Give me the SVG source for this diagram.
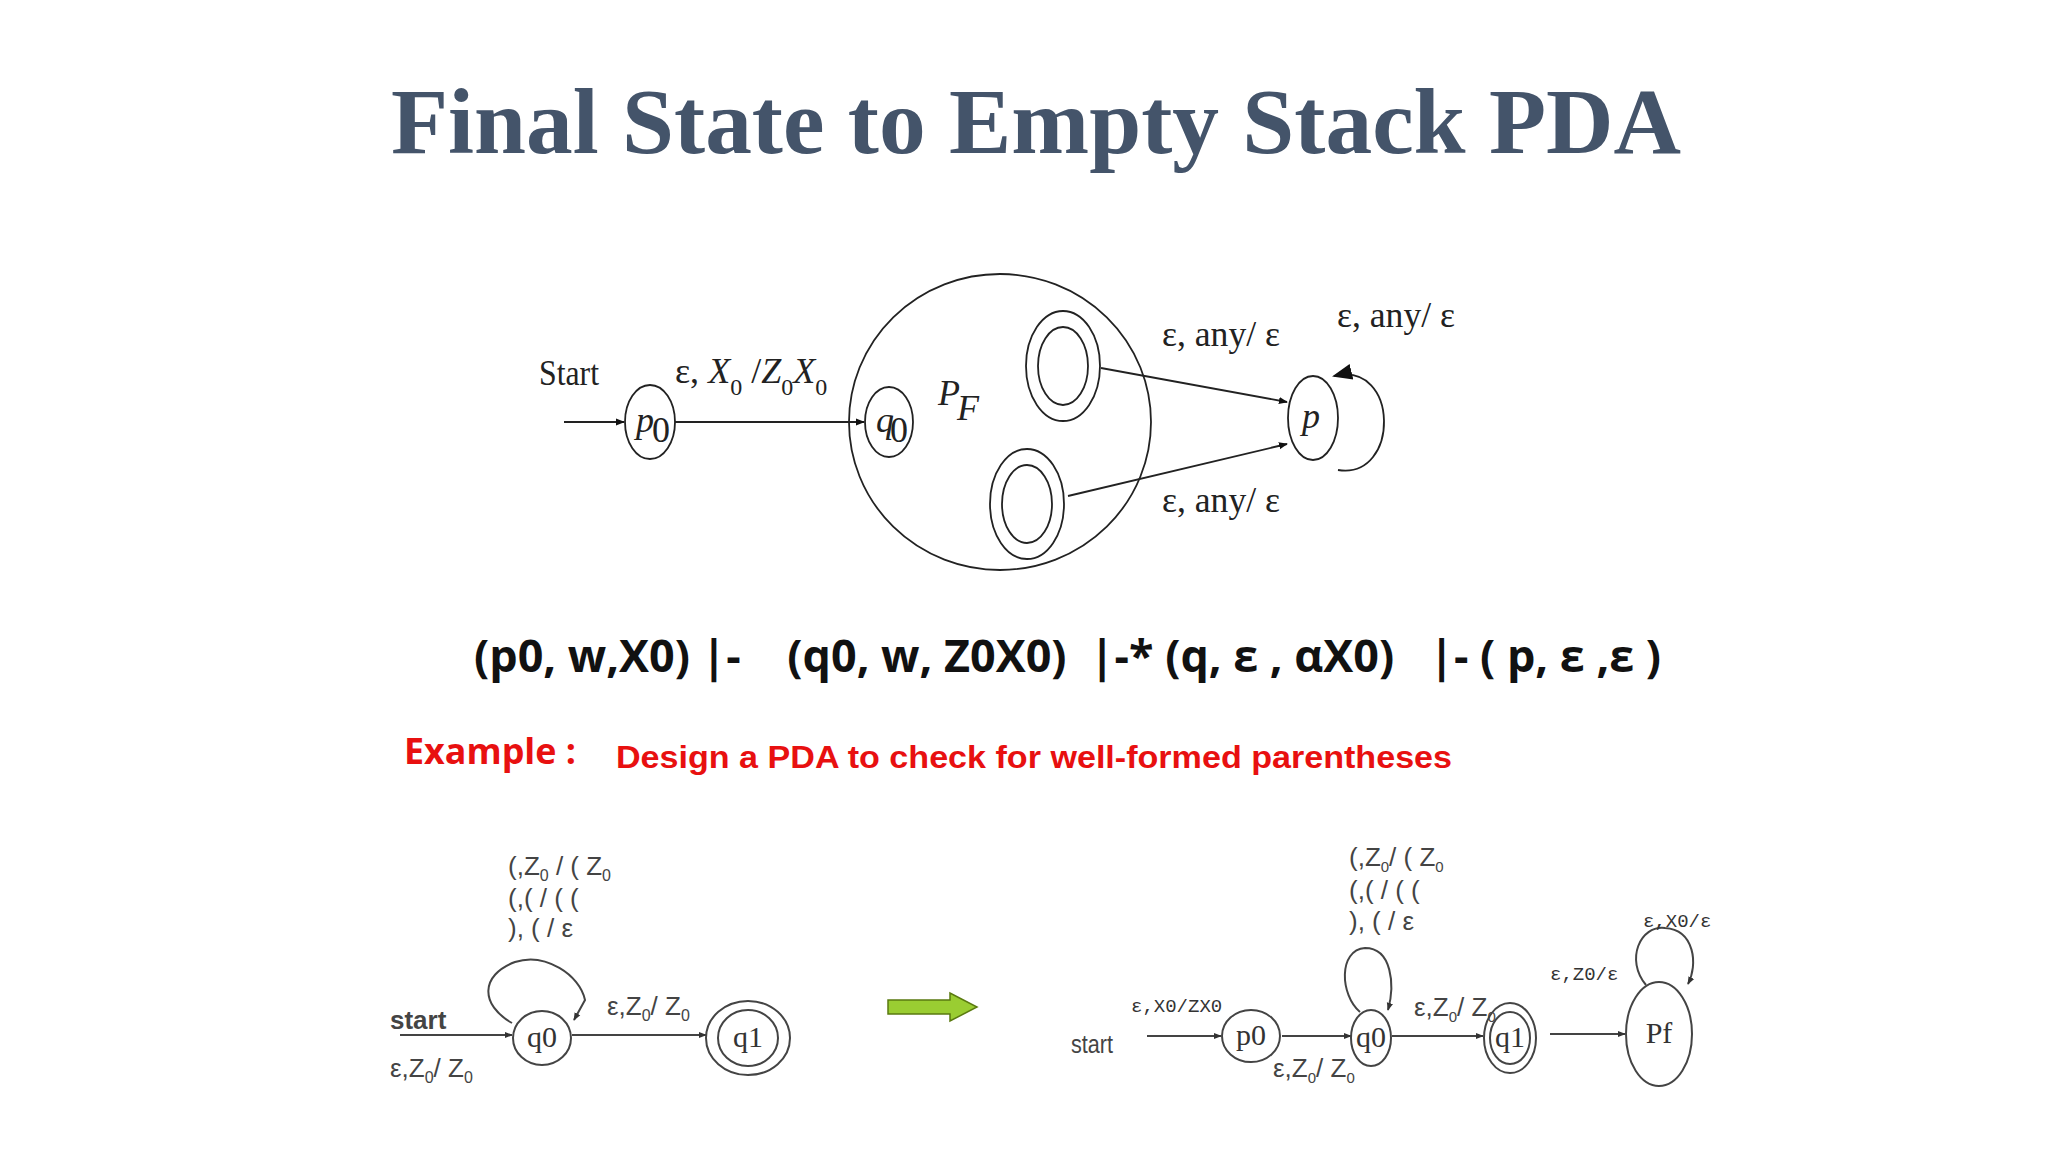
<svg xmlns="http://www.w3.org/2000/svg" width="2048" height="1152" viewBox="0 0 2048 1152">
<defs>
<marker id="ah" viewBox="0 0 10 10" refX="9" refY="5" markerWidth="9" markerHeight="9" markerUnits="userSpaceOnUse" orient="auto"><path d="M0,1 L10,5 L0,9 z" fill="#111"/></marker>
<marker id="ahg" viewBox="0 0 10 10" refX="9" refY="5" markerWidth="8" markerHeight="8" markerUnits="userSpaceOnUse" orient="auto"><path d="M0,1 L10,5 L0,9 z" fill="#333"/></marker>
<marker id="ahb" viewBox="0 0 10 10" refX="9" refY="5" markerWidth="20" markerHeight="20" markerUnits="userSpaceOnUse" orient="auto"><path d="M0,1 L10,5 L0,9 z" fill="#111"/></marker>
</defs>
<style>
.st{fill:none;stroke:#222;stroke-width:1.8}
.sg{fill:none;stroke:#444;stroke-width:2}
.ed{fill:none;stroke:#222;stroke-width:1.8;marker-end:url(#ah)}
.eg{fill:none;stroke:#444;stroke-width:2;marker-end:url(#ahg)}
.tt{font-family:"Liberation Serif",serif;font-size:36px;fill:#222}
.ti{font-family:"Liberation Serif",serif;font-style:italic;font-size:36px;fill:#222}
.sm{font-family:"Liberation Sans",sans-serif;font-size:26px;fill:#444}
.mo{font-family:"Liberation Mono",monospace;font-size:19px;fill:#333}
.cr{font-family:"Liberation Serif",serif;font-size:30px;fill:#333}
</style>
<rect width="2048" height="1152" fill="#fff"/>
<text x="1036" y="153" text-anchor="middle" font-family="Liberation Serif,serif" font-weight="bold" font-size="93" fill="#44546A" textLength="1290" lengthAdjust="spacingAndGlyphs">Final State to Empty Stack PDA</text>

<g id="connectors">
<line class="ed" x1="564" y1="422" x2="624" y2="422"/>
<line class="ed" x1="675" y1="422" x2="864" y2="422"/>
<line class="ed" x1="1101" y1="368" x2="1287" y2="402"/>
<line class="ed" x1="1068" y1="496" x2="1287" y2="444"/>
<path d="M1338,470 C1400,480 1400,360 1334,376" class="st" marker-end="url(#ahb)"/>
<line class="eg" x1="400" y1="1035" x2="512" y2="1035"/>
<line class="eg" x1="572" y1="1035" x2="706" y2="1035"/>
<path class="eg" d="M512,1023 C480,1005 480,975 515,962 C545,952 580,975 585,1000 L574,1020"/>
<line class="eg" x1="1147" y1="1036" x2="1221" y2="1036"/>
<line class="eg" x1="1282" y1="1036" x2="1351" y2="1036"/>
<path class="eg" d="M1360,1012 C1340,995 1338,950 1365,948 C1392,948 1395,985 1388,1010"/>
<line class="eg" x1="1392" y1="1036" x2="1483" y2="1036"/>
<line class="eg" x1="1550" y1="1034" x2="1625" y2="1034"/>
<path class="eg" d="M1646,985 C1625,960 1640,925 1665,928 C1695,930 1698,965 1688,984"/>
</g>

<g id="n-start"><text x="539" y="385" class="tt" textLength="60" lengthAdjust="spacingAndGlyphs">Start</text></g>
<g id="n-p0"><ellipse cx="650" cy="422" rx="25" ry="37" class="st"/><text x="636" y="432" class="ti" font-size="34">p</text><text x="652" y="442" class="tt" font-size="24">0</text></g>
<g id="l-1"><text x="675" y="383" class="tt" font-size="34">ε, <tspan font-style="italic">X</tspan><tspan font-size="24" dy="12">0</tspan><tspan dy="-12"> /</tspan><tspan font-style="italic">Z</tspan><tspan font-size="24" dy="12">0</tspan><tspan dy="-12" font-style="italic">X</tspan><tspan font-size="24" dy="12">0</tspan></text></g>
<g id="n-PF"><ellipse cx="1000" cy="422" rx="151" ry="148" class="st"/><text x="938" y="405" class="ti" font-size="34">P</text><text x="957" y="420" class="ti" font-size="20">F</text></g>
<g id="n-q0"><ellipse cx="889" cy="422" rx="24" ry="35" class="st"/><text x="876" y="432" class="ti" font-size="32">q</text><text x="890" y="442" class="tt" font-size="22">0</text></g>
<g id="n-f1"><ellipse cx="1063" cy="366" rx="37" ry="55" class="st"/><ellipse cx="1063" cy="366" rx="25" ry="39" class="st"/></g>
<g id="n-f2"><ellipse cx="1027" cy="504" rx="37" ry="55" class="st"/><ellipse cx="1027" cy="504" rx="25" ry="39" class="st"/></g>
<g id="n-p"><ellipse cx="1313" cy="418" rx="25" ry="42" class="st"/><text x="1302" y="428" class="ti" font-size="34">p</text></g>
<text x="1162" y="346" class="tt" font-size="34" textLength="118" lengthAdjust="spacingAndGlyphs">ε, any/ ε</text>
<text x="1162" y="512" class="tt" font-size="34" textLength="118" lengthAdjust="spacingAndGlyphs">ε, any/ ε</text>
<text x="1337" y="327" class="tt" font-size="34" textLength="118" lengthAdjust="spacingAndGlyphs">ε, any/ ε</text>

<text x="474" y="672" font-family="Open Sans,Liberation Sans,sans-serif" font-weight="bold" font-size="44" fill="#111" textLength="1187" lengthAdjust="spacingAndGlyphs" xml:space="preserve">(p0, w,X0) |-    (q0, w, Z0X0)  |-* (q, ε , αX0)   |- ( p, ε ,ε )</text>
<text x="404" y="764" font-family="Open Sans,Liberation Sans,sans-serif" font-weight="bold" font-size="36" fill="#E81010" textLength="172" lengthAdjust="spacingAndGlyphs">Example :</text>
<text x="616" y="768" font-family="Liberation Sans,sans-serif" font-weight="bold" font-size="32" fill="#E81010" textLength="836" lengthAdjust="spacingAndGlyphs">Design a PDA to check for well-formed parentheses</text>

<g id="n-bl-labels">
<text x="508" y="875" class="sm">(,Z<tspan font-size="16" dy="6">0</tspan><tspan dy="-6"> / ( Z</tspan><tspan font-size="16" dy="6">0</tspan></text>
<text x="508" y="907" class="sm">(,( / ( (</text>
<text x="508" y="937" class="sm">), ( / ε</text>
<text x="390" y="1029" class="sm" font-weight="bold">start</text>
<text x="390" y="1077" class="sm">ε,Z<tspan font-size="16" dy="6">0</tspan><tspan dy="-6">/ Z</tspan><tspan font-size="16" dy="6">0</tspan></text>
<text x="607" y="1015" class="sm">ε,Z<tspan font-size="16" dy="6">0</tspan><tspan dy="-6">/ Z</tspan><tspan font-size="16" dy="6">0</tspan></text>
</g>
<g id="n-bl-q0"><ellipse cx="542" cy="1038" rx="29" ry="27" class="sg" stroke-width="2.5"/><text x="542" y="1047" class="cr" text-anchor="middle">q0</text></g>
<g id="n-bl-q1"><ellipse cx="748" cy="1038" rx="42" ry="37" class="sg"/><ellipse cx="748" cy="1038" rx="30" ry="28" class="sg" stroke-width="2.5"/><text x="748" y="1047" class="cr" text-anchor="middle">q1</text></g>

<g id="n-green"><path d="M888,1000 L950,1000 L950,993 L977,1007 L950,1021 L950,1014 L888,1014 z" fill="#9ACD32" stroke="#5a7a10" stroke-width="1.5"/></g>

<g id="n-br-labels">
<text x="1349" y="866" class="sm" font-size="24">(,Z<tspan font-size="15" dy="6">0</tspan><tspan dy="-6">/ ( Z</tspan><tspan font-size="15" dy="6">0</tspan></text>
<text x="1349" y="899" class="sm" font-size="24">(,( / ( (</text>
<text x="1349" y="930" class="sm" font-size="24">), ( / ε</text>
<text x="1071" y="1053" class="sm" font-size="24" textLength="42" lengthAdjust="spacingAndGlyphs">start</text>
<text x="1131" y="1012" class="mo">ε,X0/ZX0</text>
<text x="1273" y="1077" class="sm" font-size="24">ε,Z<tspan font-size="15" dy="6">0</tspan><tspan dy="-6">/ Z</tspan><tspan font-size="15" dy="6">0</tspan></text>
<text x="1414" y="1016" class="sm" font-size="24">ε,Z<tspan font-size="15" dy="6">0</tspan><tspan dy="-6">/ Z</tspan><tspan font-size="15" dy="6">0</tspan></text>
<text x="1550" y="980" class="mo">ε,Z0/ε</text>
<text x="1643" y="927" class="mo">ε,X0/ε</text>
</g>
<g id="n-br-p0"><ellipse cx="1251" cy="1036" rx="29" ry="26" class="sg"/><text x="1251" y="1045" class="cr" text-anchor="middle" font-size="26">p0</text></g>
<g id="n-br-q0"><ellipse cx="1371" cy="1038" rx="20" ry="28" class="sg" stroke-width="2.5"/><text x="1371" y="1047" class="cr" text-anchor="middle" font-size="26">q0</text></g>
<g id="n-br-q1"><ellipse cx="1510" cy="1038" rx="26" ry="35" class="sg"/><ellipse cx="1510" cy="1038" rx="20" ry="26" class="sg" stroke-width="2.5"/><text x="1510" y="1047" class="cr" text-anchor="middle" font-size="26">q1</text></g>
<g id="n-br-pf"><ellipse cx="1659" cy="1034" rx="33" ry="52" class="sg"/><text x="1659" y="1043" class="cr" text-anchor="middle" font-size="24">Pf</text></g>
</svg>
